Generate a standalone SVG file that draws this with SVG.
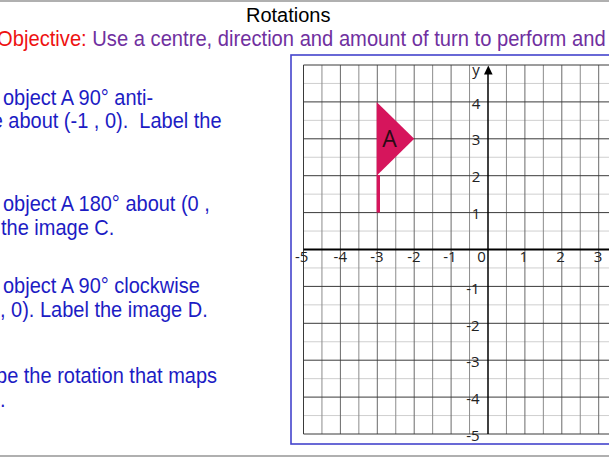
<svg xmlns="http://www.w3.org/2000/svg" width="609" height="457" viewBox="0 0 609 457">
<style>
.title{font-family:"Liberation Sans",Arial,sans-serif;font-size:20px;fill:#000}
.obj{font-family:"Liberation Sans",Arial,sans-serif;font-size:21.7px;fill:#7030a0}
.red{fill:#ee1111}
.body{font-family:"Liberation Sans",Arial,sans-serif;font-size:21.5px;fill:#1c1cc4}
.num{font-family:"Open Sans","Noto Sans",sans-serif;font-size:15px;fill:#222;text-anchor:middle}
.gh{stroke:#cfcfcf;stroke-width:1;fill:none}
.gd{stroke:#3a3a3a;stroke-width:1;fill:none}
.gv{stroke:#6a6a6a;stroke-width:1;fill:none}
.gvh{stroke:#8c8c8c;stroke-width:1;fill:none}
</style>
<rect x="0" y="0" width="609" height="457" fill="#fff"/>
<line x1="0" y1="1" x2="609" y2="1" stroke="#b0b0b0" stroke-width="2"/>
<line x1="0" y1="456" x2="609" y2="456" stroke="#b0b0b0" stroke-width="2"/>

<g id="title">
<text class="title" x="246" y="22">Rotations</text>
<g transform="scale(0.93,1)">
<text class="obj" x="-3.2" y="46" xml:space="preserve"><tspan class="red">Objective:</tspan> Use a centre, direction and amount of turn to perform and</text>
</g>
</g>

<g id="questions" transform="scale(0.93,1)">
<text class="body" x="3.2" y="105">object A 90° anti-</text>
<text class="body" x="-9" y="128.5" xml:space="preserve">e about (-1 , 0).  Label the</text>
<text class="body" x="3.2" y="211">object A 180° about (0 ,</text>
<text class="body" x="1.1" y="235">the image C.</text>
<text class="body" x="3.2" y="293">object A 90° clockwise</text>
<text class="body" x="0" y="317">, 0). Label the image D.</text>
<text class="body" x="-4.3" y="383">be the rotation that maps</text>
<text class="body" x="0" y="407">.</text>
</g>

<g id="frame">
<rect x="291" y="55" width="330" height="389" fill="none" stroke="#4444cc" stroke-width="1.6"/>
</g>

<g id="grid">
<path class="gh" d="M303.5 83.45H609M303.5 120.35H609M303.5 157.25H609M303.5 194.15H609M303.5 231.05H609M303.5 267.95H609M303.5 304.85H609M303.5 341.75H609M303.5 378.65H609M303.5 415.55H609"/>
<path class="gvh" d="M321.95 65V434M358.85 65V434M395.75 65V434M432.65 65V434M469.55 65V434M506.45 65V434M543.35 65V434M580.25 65V434"/>
<path class="gv" d="M340.4 65V434M377.3 65V434M414.2 65V434M451.1 65V434M524.9 65V434M561.8 65V434M598.7 65V434"/>
<path class="gd" d="M303.5 65H609M303.5 101.9H609M303.5 138.8H609M303.5 175.7H609M303.5 212.6H609M303.5 286.4H609M303.5 323.3H609M303.5 360.2H609M303.5 397.1H609M303.5 434H609M303.5 65V434"/>
</g>

<g id="axes">
<line x1="303.5" y1="249.5" x2="609" y2="249.5" stroke="#000" stroke-width="2"/>
<line x1="488" y1="434" x2="488" y2="72" stroke="#000" stroke-width="1.5"/>
<polygon points="488.3,65.5 484,74.5 492.6,74.5" fill="#000"/>
<text class="num" x="476" y="75">y</text>
<text class="num" x="476" y="108.5">4</text>
<text class="num" x="476" y="145.3">3</text>
<text class="num" x="476" y="182.2">2</text>
<text class="num" x="476" y="219.1">1</text>
<text class="num" x="473" y="293.5">-1</text>
<text class="num" x="473" y="330.5">-2</text>
<text class="num" x="473" y="367.3">-3</text>
<text class="num" x="473" y="404.2">-4</text>
<text class="num" x="473" y="441">-5</text>
<text class="num" x="301.7" y="261.7">-5</text>
<text class="num" x="340.3" y="261.7">-4</text>
<text class="num" x="377" y="261.7">-3</text>
<text class="num" x="414" y="261.7">-2</text>
<text class="num" x="450" y="261.7">-1</text>
<text class="num" x="481.5" y="261.7">0</text>
<text class="num" x="523.7" y="261.7">1</text>
<text class="num" x="560.5" y="261.7">2</text>
<text class="num" x="598" y="261.7">3</text>
</g>

<g id="flagA">
<polygon points="376.6,101.9 414.2,138.8 376.6,175.7" fill="#d6155c"/>
<rect x="376.6" y="175" width="3.4" height="37.6" fill="#d6155c"/>
<text x="389.5" y="147" font-family="Open Sans,Noto Sans,sans-serif" font-size="23" fill="#2a0a14" text-anchor="middle">A</text>
</g>
</svg>
